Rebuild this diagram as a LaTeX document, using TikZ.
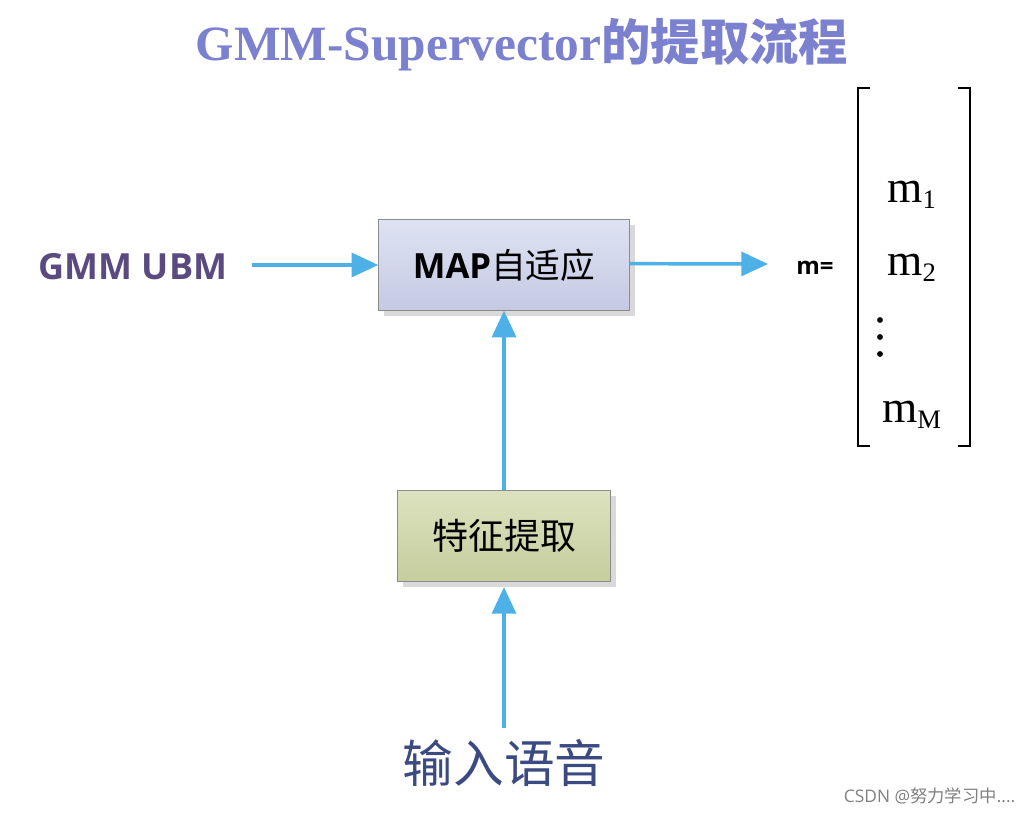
\documentclass[tikz,border=0pt]{standalone}
\usepackage{fontspec}
\setmainfont{Liberation Serif}
\newfontfamily\sansf{Open Sans}
\newfontfamily\cjk{Noto Sans CJK SC}
\usetikzlibrary{arrows.meta,shadows}
\definecolor{arr}{HTML}{4DB1E8}
\definecolor{ttl}{HTML}{7B80CF}
\tikzset{
 conn/.style={arr,line width=2.6pt,-{Triangle[length=20pt,width=18pt]}},
 box/.style={draw=black!45,line width=0.6pt,drop shadow={shadow xshift=4pt,shadow yshift=-4pt,fill=black!25,opacity=0.6}},
}
\begin{document}
\begin{tikzpicture}[x=0.75pt,y=-0.75pt]
\useasboundingbox (0,0) rectangle (1030,814);
\node (title) at (522,45) {\fontsize{37}{40}\selectfont\bfseries\color{ttl}GMM-Supervector{\cjk 的提取流程}};
\node (ubm) at (133,267) {\sansf\bfseries\fontsize{27}{29}\selectfont\color[HTML]{5B4A7F}GMM UBM};
\node[box,minimum width=188pt,minimum height=68pt,top color={rgb,255:red,222;green,226;blue,242},bottom color={rgb,255:red,196;green,202;blue,227}] (map) at (504,265) {\fontsize{26}{28}\selectfont{\sansf\bfseries MAP}{\cjk 自适应}};
\node[box,minimum width=160pt,minimum height=68pt,top color={rgb,255:red,220;green,226;blue,190},bottom color={rgb,255:red,198;green,205;blue,158}] (feat) at (504,536) {\fontsize{27}{29}\selectfont\cjk 特征提取};
\node (m) at (815,268) {\sansf\bfseries\fontsize{18}{20}\selectfont m=};
\coordinate (u1) at (252,265);
\coordinate (m1) at (768,264);
\coordinate (in) at (504,728);
\draw[conn] (u1) -- (map.west);
\draw[conn] ([yshift=1pt]map.east) -- (m1);
\draw[conn] (feat.north) -- (map.south);
\draw[conn] (in) -- ([yshift=-4pt]feat.south);
\draw[line width=1.6pt] (870,88) -- (858,88) -- (858,446) -- (870,446);
\draw[line width=1.6pt] (958,88) -- (970,88) -- (970,446) -- (958,446);
\node (e1) at (912,195) {\fontsize{34}{36}\selectfont m$_{\mbox{\fontsize{20}{22}\selectfont 1}}$};
\node (e2) at (912,268) {\fontsize{34}{36}\selectfont m$_{\mbox{\fontsize{20}{22}\selectfont 2}}$};
\foreach \yy in {320,337,354} \fill (880,\yy) circle (2.2pt);
\node (e4) at (912,415) {\fontsize{34}{36}\selectfont m$_{\mbox{\fontsize{20}{22}\selectfont M}}$};
\node (speech) at (504,763) {\fontsize{38}{40}\selectfont\cjk\color[HTML]{3B4A80}输入语音};
\node[anchor=east] (wm) at (1020,796) {\sansf\fontsize{13}{15}\selectfont\color{black!50}CSDN @{\cjk 努力学习中}....};
\end{tikzpicture}
\end{document}
